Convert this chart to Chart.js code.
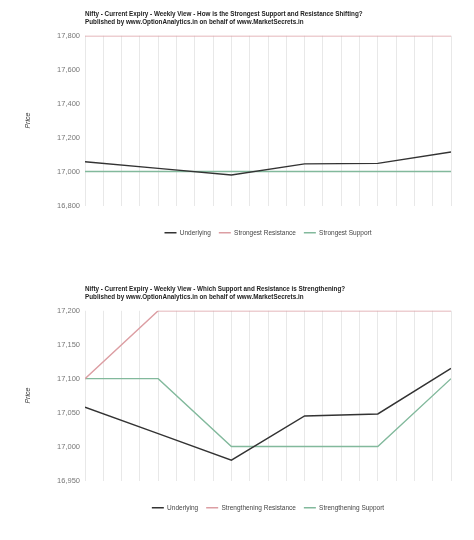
<!DOCTYPE html>
<html>
<head>
<meta charset="utf-8">
<script src="https://cdn.jsdelivr.net/npm/chart.js@4"></script>
<style>
  body { margin: 0; background: #fff; }
  .box { position: absolute; left: 0; width: 474px; height: 250px; }
</style>
</head>
<body>
<div class="box" style="top:0"><canvas id="shiftChart"></canvas></div>
<div class="box" style="top:275px"><canvas id="strengthChart"></canvas></div>
<script>
// Weekly sessions (x position of each point, no labels shown on the axis)
const sessions = [0, 1, 2, 3, 4, 5];

// Underlying (same in both charts)
const underlying = [17058, 17019, 16980, 17045, 17048, 17115];

// Chart 1 - strongest levels
const strongestResistance = [17800, 17800, 17800, 17800, 17800, 17800];
const strongestSupport = [17000, 17000, 17000, 17000, 17000, 17000];

// Chart 2 - strengthening levels
const strengtheningResistance = [17100, 17200, 17200, 17200, 17200, 17200];
const strengtheningSupport = [17100, 17100, 17000, 17000, 17000, 17100];

const titles1 = [
    "Nifty - Current Expiry - Weekly View - How is the Strongest Support and Resistance Shifting?",
    "Published by www.OptionAnalytics.in on behalf of www.MarketSecrets.in",
];
const titles2 = [
    "Nifty - Current Expiry - Weekly View - Which Support and Resistance is Strengthening?",
    "Published by www.OptionAnalytics.in on behalf of www.MarketSecrets.in",
];

const FONT = "'Liberation Sans', Arial, sans-serif";
const points = (arr) => arr.map((v, i) => ({ x: sessions[i], y: v }));

function series(label, data, color) {
    return {
        label,
        data: points(data),
        borderColor: color,
        backgroundColor: color,
        borderWidth: 1.4,
        pointRadius: 0,
        tension: 0,
    };
}

function makeChart(id, titleLines, names, resist, support, yMin, yMax, yStep) {
    return new Chart(document.getElementById(id).getContext("2d"), {
        type: "line",
        data: {
            datasets: [
                series("Underlying", underlying, "#333333"),
                series(names[0], resist, "#dc9ea3"),
                series(names[1], support, "#82b99c"),
            ],
        },
        options: {
            responsive: true,
            maintainAspectRatio: false,
            animation: false,
            layout: { padding: { left: 0, right: 23, top: 0, bottom: 4 } },
            plugins: {
                tooltip: { enabled: false },
                title: {
                    display: true,
                    text: titleLines,
                    align: "start",
                    fullSize: false,
                    color: "#222",
                    font: { family: FONT, size: 6.3, weight: "bold", lineHeight: 1.25 },
                    padding: { top: 10, bottom: 10 },
                },
                legend: {
                    position: "bottom",
                    fullSize: false,
                    labels: {
                        usePointStyle: true,
                        pointStyle: "line",
                        pointStyleWidth: 12,
                        boxHeight: 6,
                        padding: 8,
                        color: "#444",
                        font: { family: FONT, size: 6.5 },
                    },
                },
            },
            scales: {
                x: {
                    type: "linear",
                    min: 0,
                    max: 5,
                    ticks: { display: false, stepSize: 0.25 },
                    grid: { color: "#e8e8e8", drawTicks: false },
                    border: { display: false },
                    afterFit: (scale) => { scale.height = 16; },
                },
                y: {
                    min: yMin,
                    max: yMax,
                    ticks: {
                        stepSize: yStep,
                        color: "#777",
                        padding: -3,
                        font: { family: FONT, size: 7.5 },
                    },
                    grid: { display: false },
                    border: { display: false },
                    title: {
                        display: true,
                        text: "Price",
                        color: "#333",
                        padding: { top: 24, bottom: 0 },
                        font: { family: FONT, size: 7, style: "italic" },
                    },
                    afterFit: (scale) => { scale.width = 85; },
                },
            },
        },
    });
}

makeChart("shiftChart", titles1, ["Strongest Resistance", "Strongest Support"],
    strongestResistance, strongestSupport, 16800, 17800, 200);
makeChart("strengthChart", titles2, ["Strengthening Resistance", "Strengthening Support"],
    strengtheningResistance, strengtheningSupport, 16950, 17200, 50);
</script>
</body>
</html>
